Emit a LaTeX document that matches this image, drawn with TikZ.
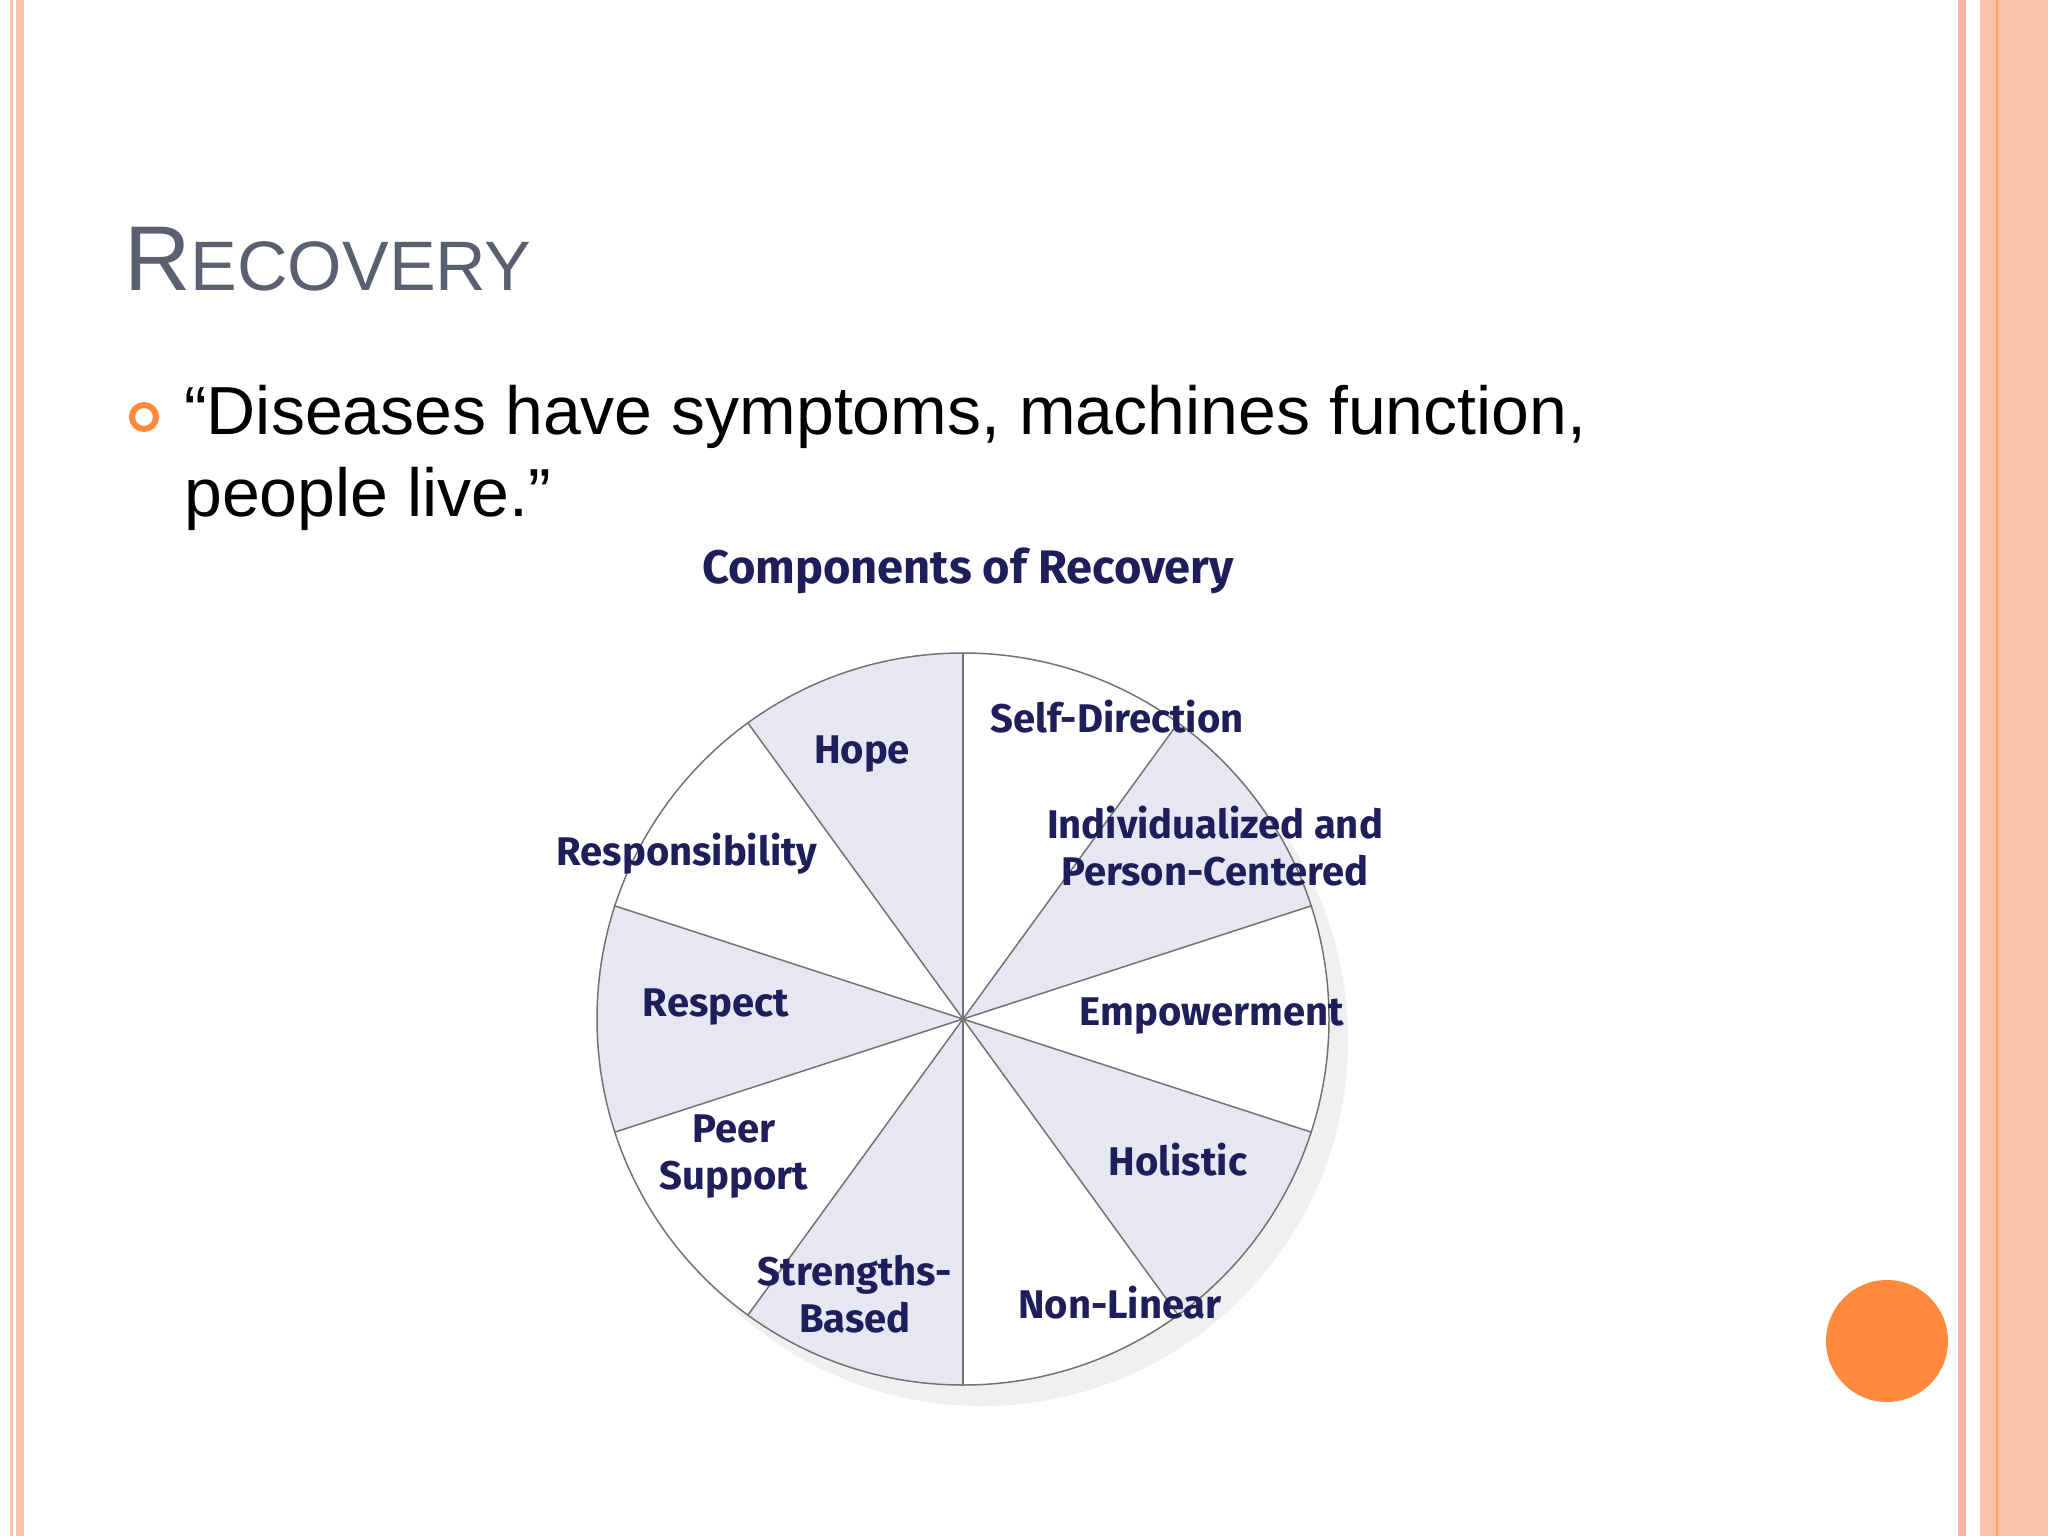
\documentclass[tikz,border=0pt]{standalone}
\usepackage{fontspec}
\setmainfont{Liberation Sans}
\newfontfamily\lbl{Fira Sans}
\definecolor{peach}{HTML}{FBC3AA}
\definecolor{pinkl}{HTML}{F6B5A8}
\definecolor{orng}{HTML}{FF8A3D}
\definecolor{navy}{HTML}{1E1F5A}
\definecolor{lav}{HTML}{E6E7F2}
\definecolor{ttl}{HTML}{5B6070}
\begin{document}
\begin{tikzpicture}[x=1pt,y=-1pt,
  lab/.style={font=\lbl\bfseries\fontsize{40}{47}\selectfont,text=navy,align=center},
  body/.style={anchor=base west,inner sep=0,font=\fontsize{68}{82}\selectfont},
  sect/.style={fill=lav}]
\useasboundingbox (0,0) rectangle (2048,1536);
\fill[white] (0,0) rectangle (2048,1536);
% borders
\fill[peach] (10,0) rectangle (13,1536);
\fill[peach] (16,0) rectangle (24,1536);
\fill[pinkl] (1958,0) rectangle (1966,1536);
\fill[peach] (1980,0) rectangle (2048,1536);
\fill[orng!70!peach] (1996,0) rectangle (1998,1536);
% title
\node[anchor=base west,text=ttl,inner sep=0] (title) at (124,290) {\fontsize{92}{100}\selectfont R\fontsize{70}{80}\selectfont ECOVERY};
% bullet
\draw[orng,line width=6] (144,417) circle (12);
\node[body] (quote1) at (184,434) {“Diseases have symptoms, machines function,};
\node[body] (quote2) at (184,516) {people live.”};
% pie
\coordinate (c) at (963,1019);
\def\R{366}
\fill[black!10] (975,1033) circle (\R);
\fill[black!6] (982,1040) circle (\R);
\fill[white] (c) circle (\R);
\foreach \a in {90,18,-54,234,162}{
  \fill[sect] (c) -- ++(\a:\R) arc[start angle=\a,delta angle=36,radius=\R] -- cycle;}
\draw[black!55,line width=1.5] (c) circle (\R);
\foreach \a in {90,54,18,-18,-54,-90,-126,-162,162,126}{
  \draw[black!55,line width=1.5] (c) -- ++(\a:\R);}
\node[font=\lbl\bfseries\fontsize{47}{50}\selectfont,text=navy] (head) at (968,571) {Components of Recovery};
\node[lab] (hope) at (862,754) {Hope};
\node[lab] (self) at (1117,717) {Self-Direction};
\node[lab] (indiv) at (1215,846) {Individualized and\\Person-Centered};
\node[lab] (resp) at (687,854) {Responsibility};
\node[lab] (respect) at (716,1007) {Respect};
\node[lab] (emp) at (1212,1016) {Empowerment};
\node[lab] (peer) at (734,1157) {Peer\\Support};
\node[lab] (hol) at (1178,1160) {Holistic};
\node[lab] (str) at (855,1294) {Strengths-\\Based};
\node[lab] (non) at (1120,1303) {Non-Linear};
% orange dot
\fill[orng] (1887,1341) circle (61);
\end{tikzpicture}
\end{document}
